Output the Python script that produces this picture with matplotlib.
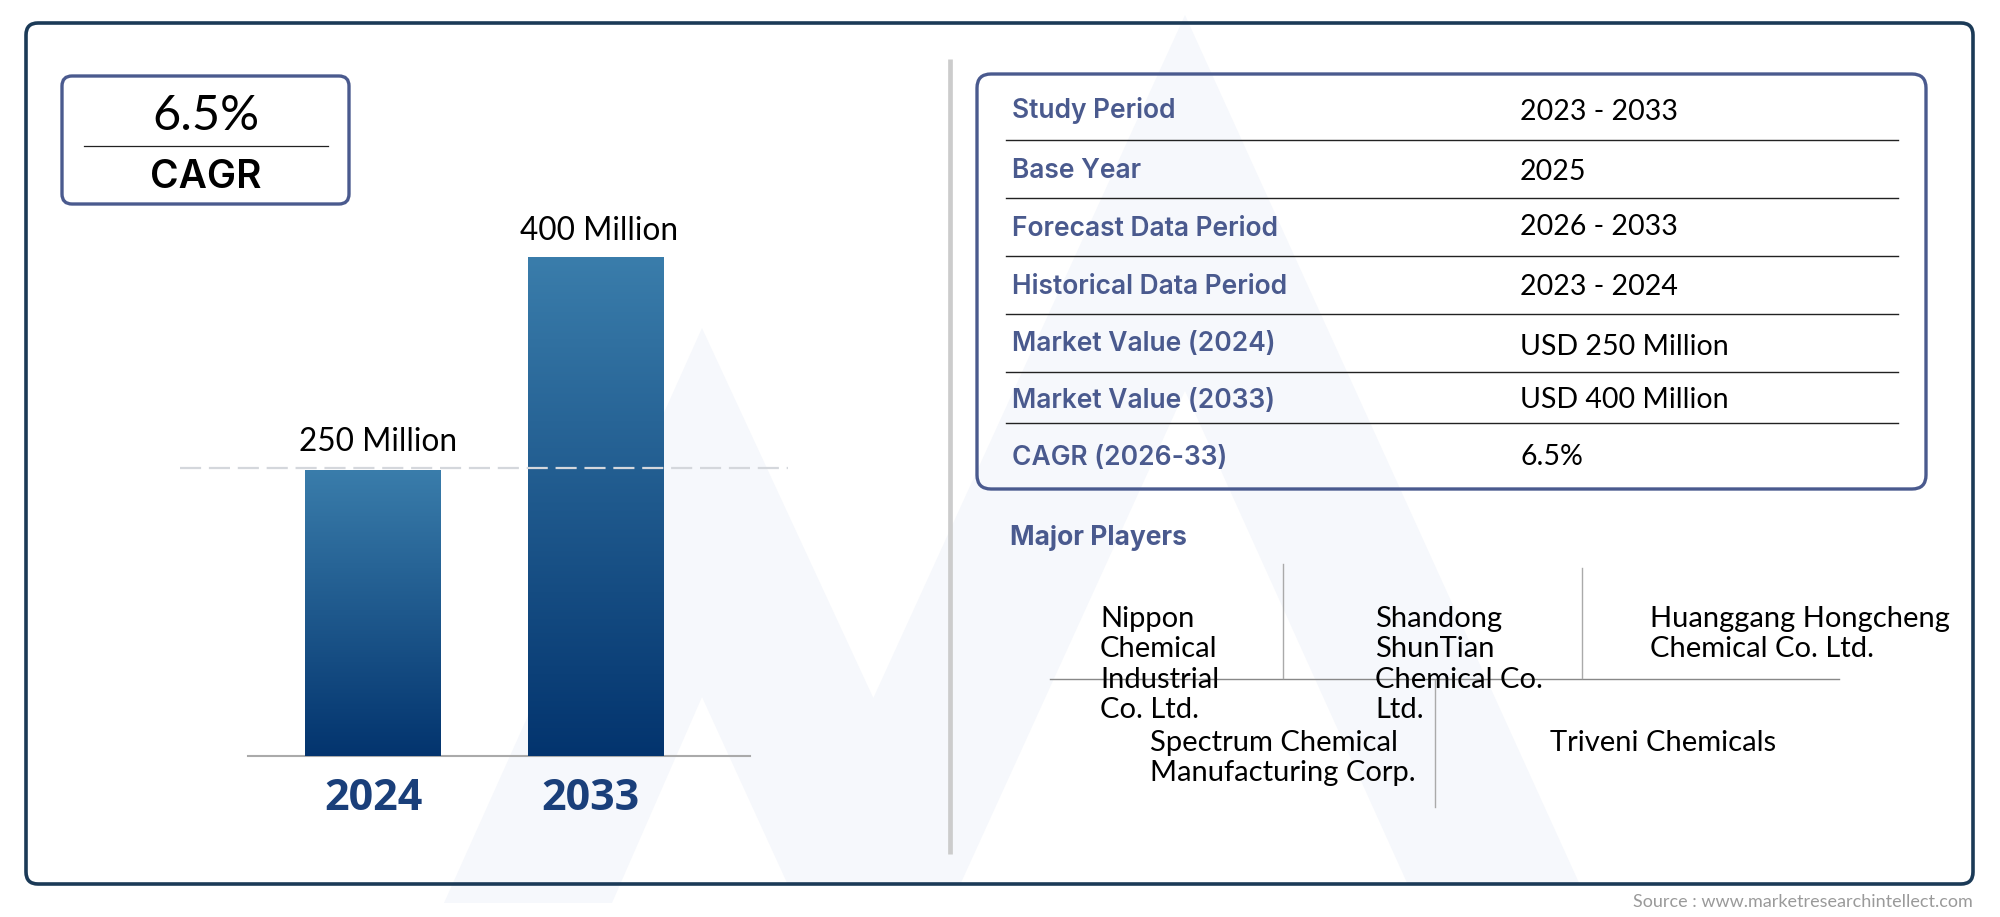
import numpy as np
import matplotlib
matplotlib.use("Agg")
import matplotlib.pyplot as plt
from matplotlib.patches import FancyBboxPatch, Polygon
from matplotlib.colors import LinearSegmentedColormap
from matplotlib.transforms import ScaledTranslation

# chart data
years = ["2024", "2033"]
market_values = [250, 400]
bar_labels = ["250 Million", "400 Million"]
cagr_value = "6.5%"
cagr_label = "CAGR"

table_labels = ["Study Period", "Base Year", "Forecast Data Period", "Historical Data Period",
                "Market Value (2024)", "Market Value (2033)", "CAGR (2026-33)"]
table_values = ["2023 - 2033", "2025", "2026 - 2033", "2023 - 2024",
                "USD 250 Million", "USD 400 Million", "6.5%"]
players = [["Nippon", "Chemical", "Industrial", "Co. Ltd."],
           ["Shandong", "ShunTian", "Chemical Co.", "Ltd."],
           ["Huanggang Hongcheng", "Chemical Co. Ltd."],
           ["Spectrum Chemical", "Manufacturing Corp."],
           ["Triveni Chemicals"]]
source = "Source : www.marketresearchintellect.com"

BODY = "Lato"
HEAD = "Inter"
SLATE = "#4a5a8e"
PALE = "#f6f8fc"
W, H = 2000, 917

fig = plt.figure(figsize=(W / 100, H / 100), dpi=100)
bg = fig.add_axes([0, 0, 1, 1])
bg.set_xlim(0, W)
bg.set_ylim(H, 0)
bg.axis("off")

# pale logo in the background
bg.add_patch(Polygon([(444, 903), (702, 328), (960, 885), (788, 885), (702, 697), (612, 903)],
                     fc=PALE, ec="none", zorder=0))
bg.add_patch(Polygon([(788, 885), (1185, 15), (1580, 885), (1408, 885), (1185, 391), (960, 885)],
                     fc=PALE, ec="none", zorder=0))


def box(x0, y0, x1, y1, color, lw, radius):
    bg.add_patch(FancyBboxPatch((x0, y0), x1 - x0, y1 - y0, boxstyle="round,pad=0,rounding_size=%d" % radius,
                                fc="none", ec=color, lw=lw, zorder=2))


box(26, 23, 1973, 884, "#1b3a57", 2.6, 12)
box(62, 76, 349, 204, SLATE, 2.4, 10)
box(977, 74, 1926, 489, SLATE, 2.4, 14)

bg.plot([950, 950], [59, 854], color="#cccccc", lw=3.4, solid_capstyle="butt", zorder=1)
bg.plot([84, 328], [146, 146], color="#222222", lw=0.9, zorder=2)
bg.plot([248, 750], [756, 756], color="#aaaaaa", lw=1.5, zorder=1)

bg.text(206, 130, cagr_value, family=BODY, fontsize=35, ha="center", va="baseline", color="black")
bg.text(206, 188, cagr_label, family=HEAD, fontsize=28, weight="semibold", ha="center", va="baseline", color="black")

# bars, each with its own vertical gradient
bar_left, bar_right = 180, 788
bar_top, bar_bottom = 257, 756
axis_floor = 48.5
x0_px, dx_px = 373, 223
ax = fig.add_axes([bar_left / W, 1 - bar_bottom / H, (bar_right - bar_left) / W, (bar_bottom - bar_top) / H])
ax.patch.set_alpha(0)
for s in ax.spines.values():
    s.set_visible(False)

x_pos = np.arange(len(years))
grad = LinearSegmentedColormap.from_list("bar", ["#03346e", "#3a7dab"])
bars = ax.bar(x_pos, market_values, width=136 / dx_px, color="none")
for b in bars:
    im = ax.imshow(np.linspace(1, 0, 256).reshape(-1, 1), cmap=grad, aspect="auto", zorder=2,
                   extent=[b.get_x(), b.get_x() + b.get_width(), axis_floor, b.get_height()])
    im.set_clip_path(b)
ax.set_xlim((bar_left - x0_px) / dx_px, (bar_right - x0_px) / dx_px)
ax.set_ylim(axis_floor, max(market_values))

# reference line sits a hair above the shorter bar
up = ScaledTranslation(0, 1.5 / 100, fig.dpi_scale_trans)
ax.plot([0, 1], [market_values[0]] * 2, transform=ax.get_yaxis_transform() + up,
        color="#d4d7dc", lw=1.6, dashes=(9.5, 3.5), zorder=3, clip_on=False)

for x, v, lab, dx, dy in zip(x_pos, market_values, bar_labels, [5, 3], [19, 17]):
    ax.annotate(lab, (x, v), xytext=(dx, dy), textcoords="offset pixels", family=BODY, fontsize=22.7,
                ha="center", va="baseline", color="black")

ax.set_yticks([])
ax.set_xticks(x_pos)
ax.set_xticklabels(years, family="Open Sans", fontsize=31, weight="bold", color="#1a3f7a")
ax.tick_params(axis="x", length=0, pad=15)
shift = ScaledTranslation(-6 / 100, 0, fig.dpi_scale_trans)
ax.get_xticklabels()[1].set_transform(ax.get_xticklabels()[1].get_transform() + shift)

# info table
row_lines = [140, 198, 256, 314, 372, 423]
label_base = [118, 178, 236, 294, 351, 408, 465]
value_base = [120, 180, 235, 295, 355, 408, 465]
for y in row_lines:
    bg.plot([1006, 1898], [y, y], color="#222222", lw=1.0, zorder=2)
for lab, val, yl, yv in zip(table_labels, table_values, label_base, value_base):
    bg.text(1012, yl, lab, family=HEAD, fontsize=19, weight="semibold", color=SLATE, va="baseline")
    bg.text(1520, yv, val, family=BODY, fontsize=20.5, color="black", va="baseline")

# major players
bg.text(1010, 545, "Major Players", family=HEAD, fontsize=19, weight="bold", color=SLATE, va="baseline")
bg.plot([1050, 1839], [679, 679], color="#888888", lw=1.0, zorder=3)
bg.plot([1283, 1283], [564, 678], color="#aaaaaa", lw=1.0, zorder=3)
bg.plot([1582, 1582], [568, 678], color="#aaaaaa", lw=1.0, zorder=3)
bg.plot([1435, 1435], [680, 807], color="#aaaaaa", lw=1.0, zorder=3)

player_x = [1100, 1375, 1650, 1150, 1550]
player_y = [627, 627, 627, 751, 751]
for name_lines, x, y in zip(players, player_x, player_y):
    for i, line in enumerate(name_lines):
        bg.text(x, y + i * 30.3, line, family=BODY, fontsize=21, color="black", va="baseline", zorder=4)

bg.text(1973, 907, source, family=BODY, fontsize=13, color="#9a9a9a", ha="right", va="baseline")

fig.savefig("out.png", dpi=100)
